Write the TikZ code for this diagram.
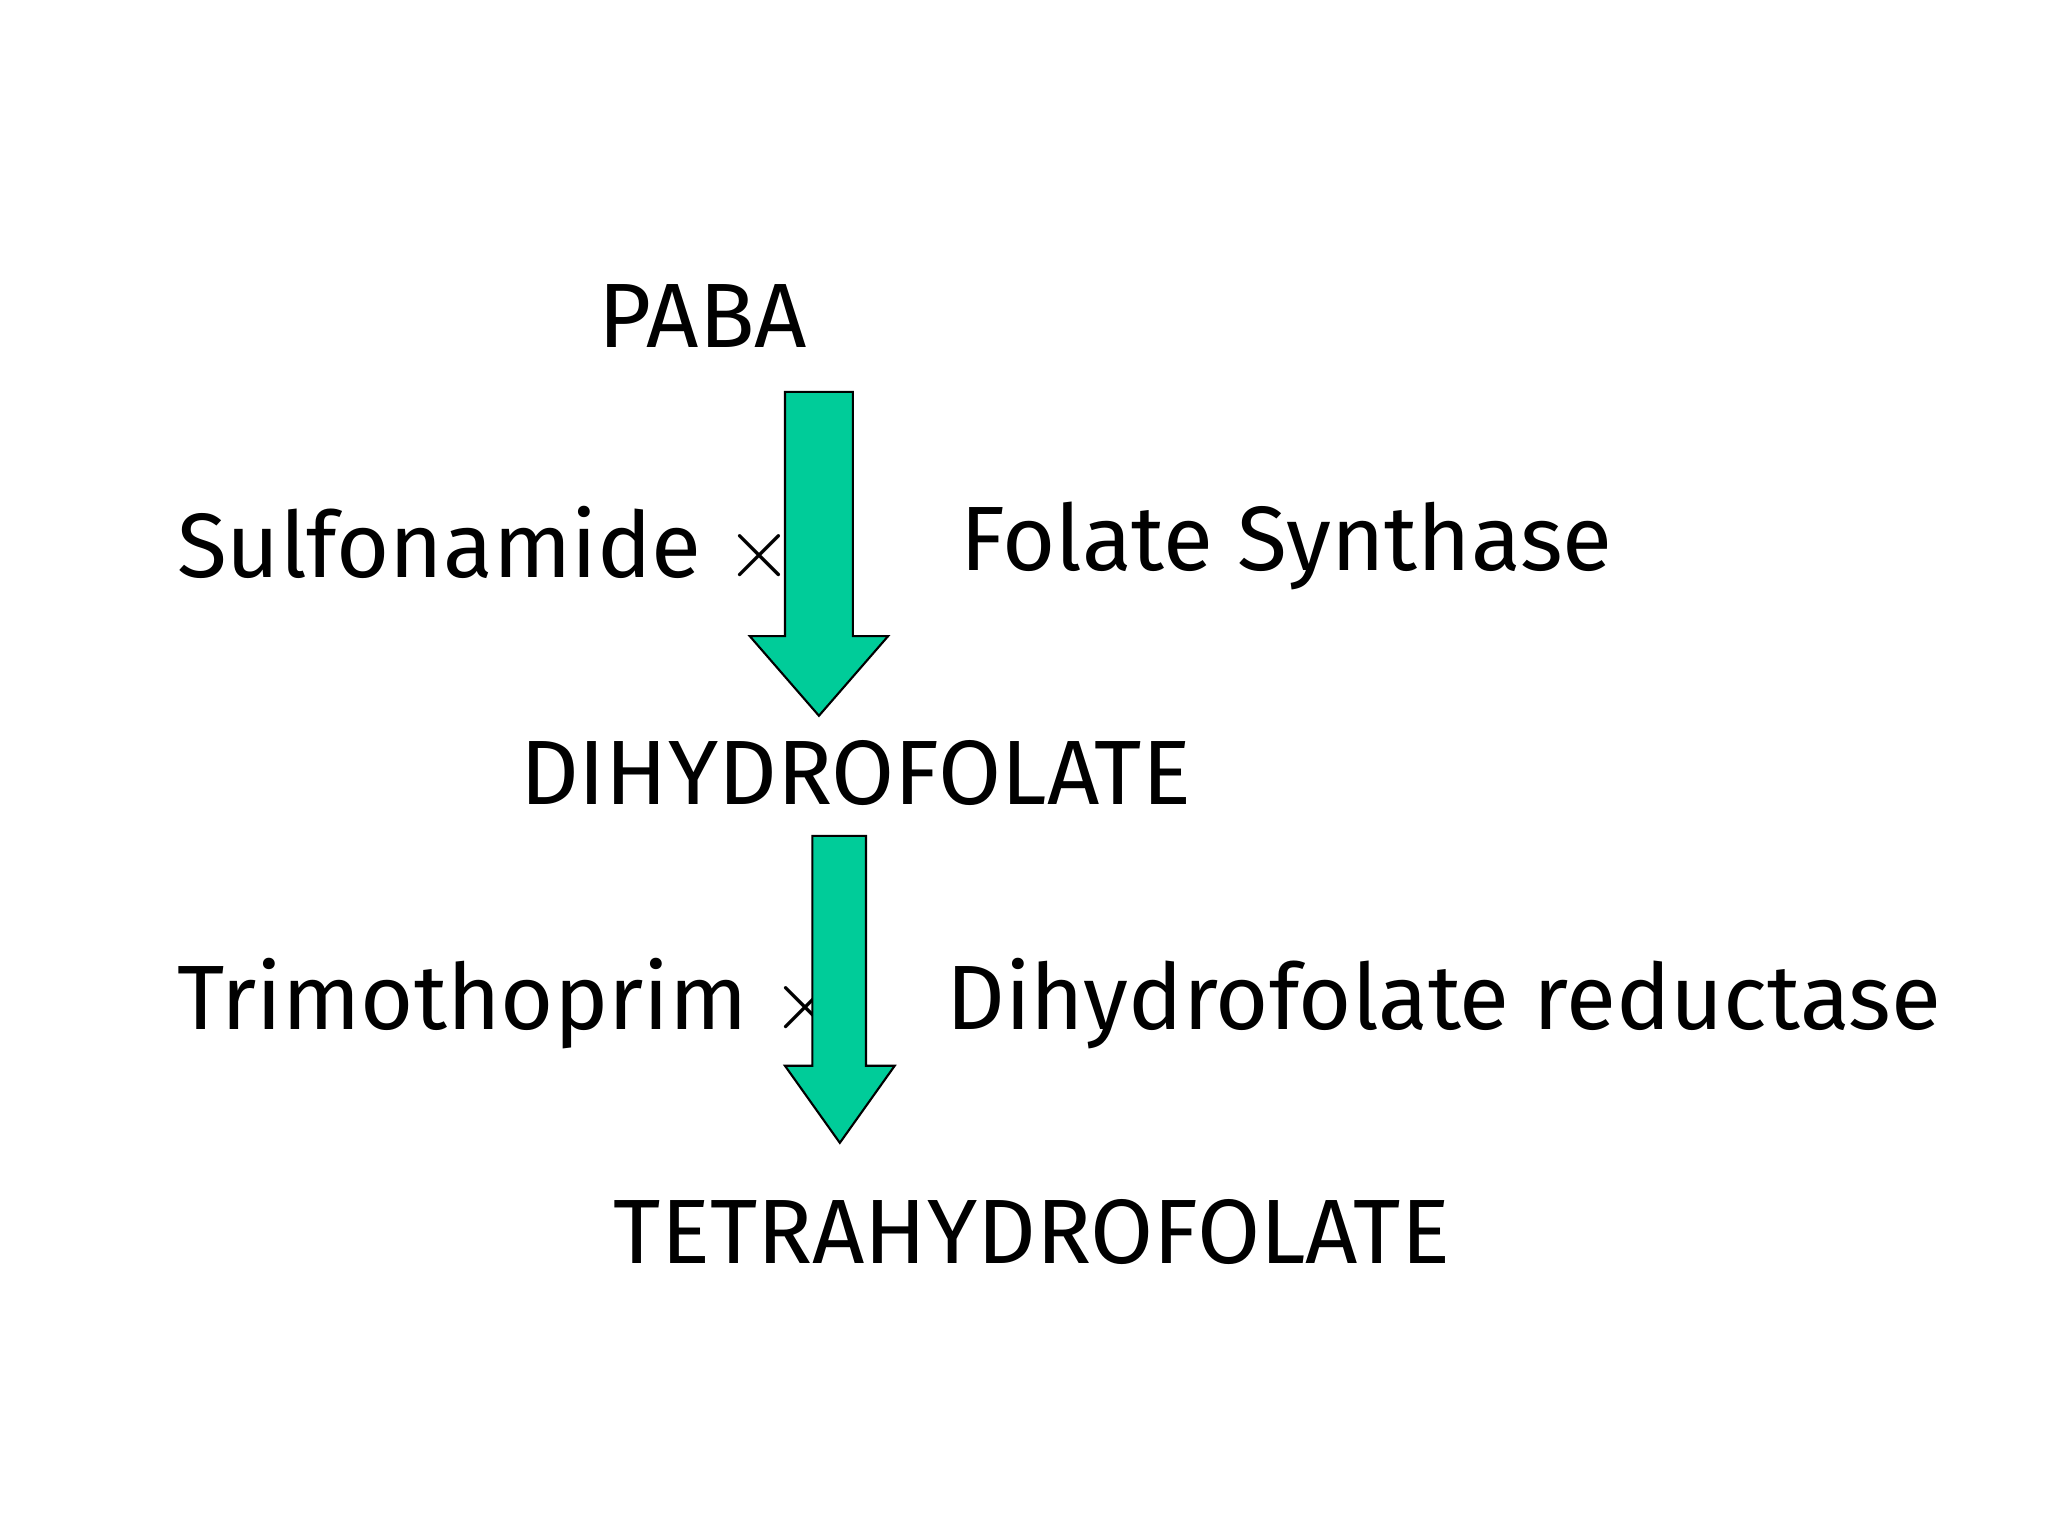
\documentclass[tikz,border=0pt]{standalone}
\usepackage{fontspec}
\setmainfont{Fira Sans}
\definecolor{arrowgreen}{RGB}{0,204,153}
\begin{document}
\begin{tikzpicture}[x=0.01306cm,y=-0.01306cm]
	\tikzset{
		label/.style={font=\fontsize{26}{30}\selectfont, inner sep=0pt},
		leftlabel/.style={label, anchor=west},
		fatarrow/.style={fill=arrowgreen, draw=black, line width=0.6pt, line join=miter}
	}
	\useasboundingbox (0,0) rectangle (1568,1176);

	\node[label] (PABA) at (538,242) {PABA};
	\node[label] (DHF) at (655,592) {DIHYDROFOLATE};
	\node[label] (THF) at (790,943) {TETRAHYDROFOLATE};

	\node[leftlabel] (SULFA) at (135,418) {Sulfonamide $\times$};
	\node[leftlabel] (FS) at (735,418) {Folate Synthase};
	\node[leftlabel] (TMP) at (135,768) {Trimothoprim $\times$};
	\node[leftlabel] (DHFR) at (724,768) {Dihydrofolate reductase};

	% PABA -> DIHYDROFOLATE
	\draw[fatarrow] (601,300) -- (653,300) -- (653,487) -- (680,487) -- (627,548)
		-- (574,487) -- (601,487) -- cycle;
	% DIHYDROFOLATE -> TETRAHYDROFOLATE
	\draw[fatarrow] (622,640) -- (663,640) -- (663,816) -- (685,816) -- (643,875)
		-- (601,816) -- (622,816) -- cycle;
\end{tikzpicture}
\end{document}
